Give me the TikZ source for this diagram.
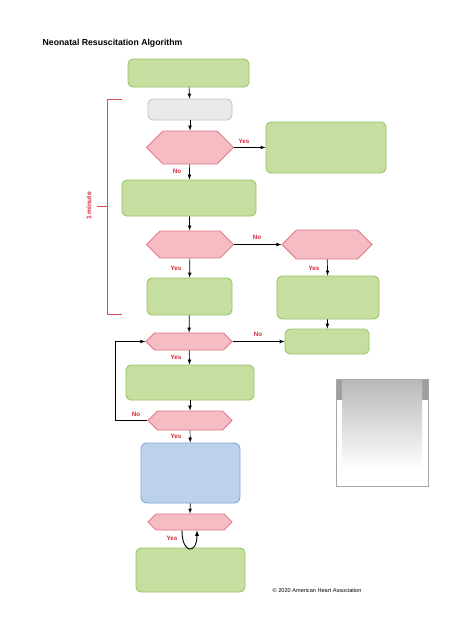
\documentclass[tikz,border=0pt]{standalone}
\usepackage{fontspec}
\setmainfont{Liberation Sans}
\usepackage{tikz}
\usetikzlibrary{shapes}
\usetikzlibrary{shapes.symbols}
\usetikzlibrary{arrows}
\definecolor{boxgreen}{RGB}{198,223,160}
\definecolor{linegreen}{RGB}{150,196,104}
\definecolor{hexpink}{RGB}{246,188,196}
\definecolor{linepink}{RGB}{226,120,136}
\definecolor{boxblue}{RGB}{188,210,236}
\definecolor{lineblue}{RGB}{128,168,214}
\definecolor{boxgray}{RGB}{234,234,234}
\definecolor{linegray}{RGB}{196,196,196}
\definecolor{ahared}{RGB}{214,44,62}
\tikzstyle{act}=[rectangle,rounded corners=5pt,draw=linegreen,fill=boxgreen,line width=0.9pt,inner sep=0mm]
\tikzstyle{start}=[rectangle,rounded corners=5pt,draw=linegray,fill=boxgray,line width=0.9pt,inner sep=0mm]
\tikzstyle{hot}=[rectangle,rounded corners=6pt,draw=lineblue,fill=boxblue,line width=0.9pt,inner sep=0mm]
\tikzstyle{ask}=[signal,signal to=west and east,signal pointer angle=90,draw=linepink,fill=hexpink,line width=0.9pt,inner sep=0mm]
\tikzstyle{lbl}=[text=ahared,font=\fontsize{6.3}{7}\selectfont\bfseries]
\tikzstyle{arrow}=[->,>=latex]
\tikzset{every picture/.style={
    line width=0.7pt
  }
}
\begin{document}
\begin{tikzpicture}[x=1pt,y=-1pt]
      \useasboundingbox[fill=white] (0,0) rectangle (474,619);
      \node[anchor=west,font=\fontsize{8.7}{10}\selectfont\bfseries] at (39,43) (title) {Neonatal Resuscitation Algorithm};
      % main column
      \node[act,minimum width=121pt,minimum height=28pt] at (188.5,73) (birth) {};
      \node[start,minimum width=84pt,minimum height=21pt] at (190,109.5) (warm) {};
      \node[ask,minimum width=87pt,minimum height=33pt] at (190,147.5) (breath) {};
      \node[act,minimum width=120pt,minimum height=51pt] at (326,147.5) (routine) {};
      \node[act,minimum width=134pt,minimum height=36pt] at (189,198) (ppv) {};
      \node[ask,minimum width=87pt,minimum height=27pt] at (190,244.5) (hr) {};
      \node[ask,minimum width=90pt,minimum height=29pt] at (327,244.5) (labored) {};
      \node[act,minimum width=85pt,minimum height=37pt] at (189.5,296.5) (monitor) {};
      \node[act,minimum width=102pt,minimum height=43pt] at (328,297.5) (cpap) {};
      \node[ask,minimum width=86pt,minimum height=17pt] at (189,341.5) (hrlow) {};
      \node[act,minimum width=84pt,minimum height=25pt] at (327,341.5) (post) {};
      \node[act,minimum width=128pt,minimum height=35pt] at (190,382.5) (vent) {};
      \node[ask,minimum width=84pt,minimum height=19pt] at (190,420.5) (hrlow2) {};
      \node[hot,minimum width=99pt,minimum height=60pt] at (190.5,473) (comp) {};
      \node[ask,minimum width=84pt,minimum height=16pt] at (190,522) (hrlow3) {};
      \node[act,minimum width=109pt,minimum height=44pt] at (190.5,570) (epi) {};
      % arrows
      \draw[arrow] (birth)--(warm);
      \draw[arrow] (warm)--(breath);
      \draw[arrow] (breath)--(routine);
      \draw[arrow] (breath)--(ppv);
      \draw[arrow] (ppv)--(hr);
      \draw[arrow] (hr)--(labored);
      \draw[arrow] (hr)--(monitor);
      \draw[arrow] (labored)--(cpap);
      \draw[arrow] (monitor)--(hrlow);
      \draw[arrow] (cpap)--(post);
      \draw[arrow] (hrlow)--(post);
      \draw[arrow] (hrlow)--(vent);
      \draw[arrow] (vent)--(hrlow2);
      \coordinate (back) at (115,420.5);
      \draw[arrow] (hrlow2.west)--(back)|-(hrlow.west);
      \draw[arrow] (hrlow2)--(comp);
      \draw[arrow] (comp)--(hrlow3);
      \draw[arrow,line width=0.9pt] ([xshift=-8pt]hrlow3.south) .. controls +(0,24) and +(0,24) .. ([xshift=7pt]hrlow3.south);
      % labels
      \node[lbl] at (244,141) (y1) {Yes};
      \node[lbl] at (177,171) (n1) {No};
      \node[lbl] at (257,237) (n2) {No};
      \node[lbl] at (176,268) (y2) {Yes};
      \node[lbl] at (314,268) (y3) {Yes};
      \node[lbl] at (258,334) (n3) {No};
      \node[lbl] at (176,357) (y4) {Yes};
      \node[lbl] at (136,414) (n4) {No};
      \node[lbl] at (176,436) (y5) {Yes};
      \node[lbl] at (172,538) (y6) {Yes};
      % bracket
      \draw[ahared!85,line width=1pt] (122,99)--(107,99)--(107,314)--(122,314);
      \draw[ahared!85,line width=1pt] (107,206)--(97,206);
      \node[lbl,rotate=90,font=\fontsize{6.8}{8}\selectfont\bfseries] at (89,206) (minute) {1 minute};
      % side panel
      \node[rectangle,draw=gray!70,fill=white,line width=0.8pt,minimum width=92pt,minimum height=107pt] at (382,432.5) (panel) {};
      \fill[gray!75] (336.5,379.5) rectangle (427.5,400);
      \shade[top color=gray!55,bottom color=white] (342,380) rectangle (422,470);
      \node[anchor=west,font=\fontsize{5.6}{7}\selectfont] at (269,590) (copy) {© 2020 American Heart Association};
\end{tikzpicture}
\end{document}
